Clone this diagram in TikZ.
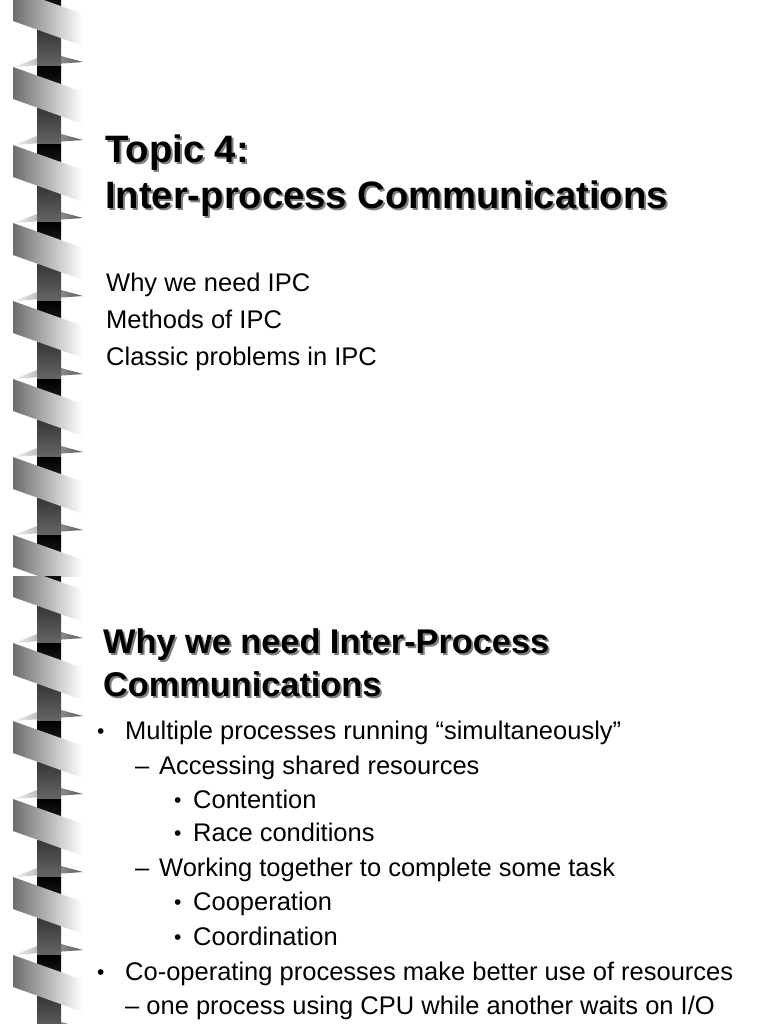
\documentclass[tikz,border=0pt]{standalone}
\usepackage{fontspec}
\setmainfont{Liberation Sans}
\begin{document}
\begin{tikzpicture}[x=1pt,y=-1pt,
  ttl/.style={anchor=base west,inner sep=0pt,font=\fontsize{38.2}{38}\bfseries\selectfont},
  ttlb/.style={anchor=base west,inner sep=0pt,font=\fontsize{34.3}{34}\bfseries\selectfont},
  body/.style={anchor=base west,inner sep=0pt,font=\fontsize{25.5}{26}\selectfont},
  bul/.style={anchor=base west,inner sep=0pt,font=\fontsize{21}{21}\selectfont}]
\useasboundingbox (0,0) rectangle (768,1024);
\fill[white] (0,0) rectangle (768,1024);
\newcommand\binder[2]{%
 \begin{scope}
 \clip (0,#1) rectangle (100,#2);
 \foreach \k in {0,...,8}{
   \pgfmathsetmacro\yy{#1-11+78*\k}
   \shade[left color=gray!10,right color=gray!70!black] (14,\yy+78) -- (50,\yy+64) -- (83,\yy+73) -- cycle;
   \shade[left color=black,right color=gray!80!black,shading angle=0] (37,\yy) rectangle (61,\yy+78);
   \shade[left color=gray!85!black,right color=white] (13,\yy) -- (83,\yy+25) -- (83,\yy+57) -- (13,\yy+32) -- cycle;
 }
 \end{scope}}
\binder{0}{576}
\binder{576}{1024}
% slide 1
\node[ttl,text=gray] at (107,165) {Topic 4:};
\node[ttl] (t1) at (105,163) {Topic 4:};
\node[ttl,text=gray] at (107,211) {Inter-process Communications};
\node[ttl] (t2) at (105,209) {Inter-process Communications};
\node[body] (a1) at (106,291) {Why we need IPC};
\node[body] (a2) at (106,328) {Methods of IPC};
\node[body] (a3) at (106,365) {Classic problems in IPC};
% slide 2
\node[ttlb,text=gray] at (105,655) {Why we need Inter-Process};
\node[ttlb] (s1) at (103,653) {Why we need Inter-Process};
\node[ttlb,text=gray] at (105,698) {Communications};
\node[ttlb] (s2) at (103,696) {Communications};
\node[bul] (b0) at (97,738) {•};
\node[body] (b1) at (125,739) {Multiple processes running “simultaneously”};
\node[body] (c1) at (135,774) {–};
\node[body] (c1t) at (159,774) {Accessing shared resources};
\node[bul] (d1) at (174,807) {•};
\node[body] (d1t) at (193,808) {Contention};
\node[bul] (d2) at (174,840) {•};
\node[body] (d2t) at (193,841) {Race conditions};
\node[body] (c2) at (135,876) {–};
\node[body] (c2t) at (159,876) {Working together to complete some task};
\node[bul] (d3) at (174,909) {•};
\node[body] (d3t) at (193,910) {Cooperation};
\node[bul] (d4) at (174,944) {•};
\node[body] (d4t) at (193,945) {Coordination};
\node[bul] (b2) at (97,979) {•};
\node[body] (b2t) at (125,980) {Co-operating processes make better use of resources};
\node[body] (b3t) at (125,1014) {– one process using CPU while another waits on I/O};
\end{tikzpicture}
\end{document}
